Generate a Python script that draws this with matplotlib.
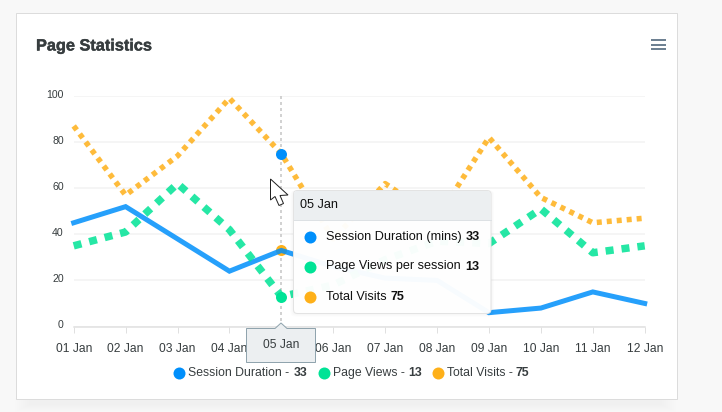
# Page Statistics dashboard card
import matplotlib.pyplot as plt
import matplotlib.patheffects as pe
from matplotlib.patches import FancyBboxPatch, Polygon, Rectangle
from matplotlib.transforms import ScaledTranslation

plt.rcParams['font.family'] = ['Liberation Sans', 'DejaVu Sans']

# Data
days = ['01 Jan', '02 Jan', '03 Jan', '04 Jan', '05 Jan', '06 Jan',
        '07 Jan', '08 Jan', '09 Jan', '10 Jan', '11 Jan', '12 Jan']
session_duration = [45, 52, 38, 24, 33, 26, 21, 20, 6, 8, 15, 10]
page_views = [35, 41, 62, 42, 13, 18, 29, 37, 36, 51, 32, 35]
total_visits = [87, 57, 74, 99, 75, 38, 62, 47, 82, 56, 45, 47]
y_ticks = [0, 20, 40, 60, 80, 100]

# hovered day, the picture swaps the markers of two series
hover = 4
hover_session_marker = 75
hover_views_marker = 13
hover_visits_marker = 33

BLUE = '#008FFB'
GREEN = '#00E396'
ORANGE = '#FEB019'
W, H = 722, 412


def px(n):  # pixels to points at dpi 100
    return n * 0.72


fig = plt.figure(figsize=(W / 100, H / 100), dpi=100, facecolor='#f8f8f8')

# Card behind the chart, in pixel coordinates
bg = fig.add_axes([0, 0, 1, 1], zorder=0)
bg.set_xlim(0, W)
bg.set_ylim(H, 0)
bg.axis('off')
for i in range(8):  # soft shadow under the card
    bg.add_patch(Rectangle((15 + i * 2, 398), 661 - i * 4, 14 - i, fc='#000000', alpha=0.005, lw=0))
bg.add_patch(Rectangle((15.5, 12.5), 661, 386, fc='white', ec='#dcdcdc', lw=px(1)))
bg.text(36, 46, 'Page Statistics', fontsize=px(16.3), fontweight='bold', color='#373d3f',
        va='center', ha='left', path_effects=[pe.withStroke(linewidth=0.3, foreground='#373d3f')])
for y in [40, 44.5, 49]:
    bg.plot([651, 666], [y, y], color='#6e8192', lw=px(2), solid_capstyle='butt')

# Chart
ax = fig.add_axes([73.7 / W, 1 - 326.5 / H, 571 / W, (326.5 - 96) / H], zorder=1)
ax.patch.set_alpha(0)
ax.set_xlim(0, len(days) - 1)
ax.set_ylim(0, 100)
x = list(range(len(days)))

ax.plot(x, session_duration, color=BLUE, alpha=0.85, lw=px(5), solid_joinstyle='miter', clip_on=False, zorder=3)
ax.plot(x, page_views, color=GREEN, alpha=0.85, lw=px(7.5), linestyle=(0, (8 / 7.5, 8 / 7.5)),
        dash_capstyle='butt', clip_on=False, zorder=3)
ax.plot(x, total_visits, color=ORANGE, alpha=0.85, lw=px(5.5), linestyle=(0, (5 / 5.5, 5 / 5.5)),
        dash_capstyle='butt', clip_on=False, zorder=3)

ax.axvline(hover, color='#c4c4c4', lw=px(1.5), linestyle=(0, (2, 2)), zorder=2)
ax.scatter([hover], [hover_visits_marker], s=px(11) ** 2, color=ORANGE, lw=0, zorder=2.5, clip_on=False)
ax.scatter([hover], [hover_session_marker], s=px(11) ** 2, color=BLUE, lw=0, zorder=4, clip_on=False)
ax.scatter([hover], [hover_views_marker], s=px(11) ** 2, color=GREEN, lw=0, zorder=4, clip_on=False)

ax.set_xticks(x)
# the hovered day's label is shown by the crosshair box instead
ax.set_xticklabels(['' if i == hover else d for i, d in enumerate(days)], fontsize=px(12), color='#373d3f')
ax.set_yticks(y_ticks)
ax.set_yticklabels([str(t) for t in y_ticks], fontsize=px(10.5), color='#373d3f')
ax.tick_params(axis='x', length=px(6), width=px(1), color='#e0e0e0', pad=px(10))
ax.tick_params(axis='y', length=0, pad=px(10))
# y labels sit a little above their grid lines
lift = ScaledTranslation(0, 1.3 / 100, fig.dpi_scale_trans)
for label in ax.get_yticklabels():
    label.set_verticalalignment('center')
    label.set_transform(label.get_transform() + lift)
ax.grid(axis='y', color='#f3f3f3', lw=px(1.5), zorder=0)
ax.set_axisbelow(True)
for side in ['top', 'left', 'right']:
    ax.spines[side].set_visible(False)
ax.spines['bottom'].set_color('#e0e0e0')
ax.spines['bottom'].set_linewidth(px(1.5))

# Tooltip, crosshair label, cursor and legend on top, again in pixels
top = fig.add_axes([0, 0, 1, 1], zorder=2)
top.patch.set_alpha(0)
top.set_xlim(0, W)
top.set_ylim(H, 0)
top.axis('off')

for i in range(4):  # tooltip shadow
    top.add_patch(FancyBboxPatch((293.5 - i, 190.5), 197.5 + 2 * i, 123 + i,
                                 boxstyle='round,pad=0,rounding_size=4', fc='#000000', alpha=0.012, lw=0))
top.add_patch(FancyBboxPatch((293.5, 190.5), 197.5, 123, boxstyle='round,pad=0,rounding_size=4',
                             fc='white', ec='#e3e3e3', lw=px(1), alpha=0.97))
top.add_patch(FancyBboxPatch((294, 191), 196.5, 28, boxstyle='round,pad=0,rounding_size=3',
                             fc='#eceff1', ec='none'))
top.add_patch(Rectangle((294, 212), 196.5, 7.5, fc='#eceff1', ec='none'))
top.plot([294, 490.5], [219.5, 219.5], color='#dde1e4', lw=px(1))
top.text(300.5, 204.5, days[hover], fontsize=px(12.6), color='#111111', va='center', ha='left')

tooltip_rows = [('Session Duration (mins)', BLUE, 236.5, session_duration[hover], 466),
                ('Page Views per session', GREEN, 266.5, page_views[hover], 465.7),
                ('Total Visits', ORANGE, 296.5, total_visits[hover], 390.5)]
for name, color, y, value, value_x in tooltip_rows:
    top.scatter([310], [y], s=px(12) ** 2, color=color, lw=0, zorder=5)
    top.text(326, y, name, fontsize=px(12.6), color='#111111', va='center', ha='left', zorder=5)
    top.text(value_x, y, str(value), fontsize=px(12.6), fontweight='bold', color='#111111',
             va='center', ha='left', zorder=5)

# crosshair label below the axis
top.add_patch(Polygon([(246.5, 328.5), (275, 328.5), (281, 323), (287, 328.5), (315.5, 328.5),
                       (315.5, 362.5), (246.5, 362.5)], closed=True, fc='#eceff1', ec='#90a4ae', lw=px(1)))
top.text(281, 345, days[hover], fontsize=px(12), color='#373d3f', va='center', ha='center')

# mouse cursor
top.add_patch(Polygon([(270.5, 179), (270.5, 200), (275, 196.5), (279, 205.5), (283.5, 203.5),
                       (280, 195.5), (288, 195)], closed=True, fc='white', ec='#222222', lw=px(1), zorder=6))

# legend
legend_items = [('Session Duration - ', BLUE, 179, 188.5, 294, session_duration[hover]),
                ('Page Views - ', GREEN, 324, 333, 408.7, page_views[hover]),
                ('Total Visits - ', ORANGE, 438, 447, 516, total_visits[hover])]
for name, color, mx, tx, vx, value in legend_items:
    top.scatter([mx], [372.7], s=px(12) ** 2, color=color, lw=0)
    top.text(tx, 372.7, name, fontsize=px(12.2), color='#373d3f', va='center', ha='left')
    top.text(vx, 372.7, str(value), fontsize=px(12.2), fontweight='bold', color='#373d3f', va='center', ha='left')

fig.savefig('out.png', dpi=100, facecolor=fig.get_facecolor())
